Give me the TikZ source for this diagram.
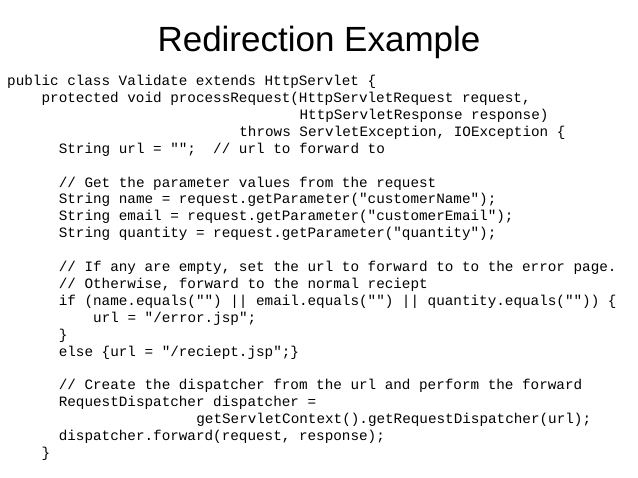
\documentclass[tikz,border=0pt]{standalone}
\usepackage{fontspec}
\setmainfont{Liberation Sans}
\newfontfamily\codefont{Liberation Mono}
\tikzset{code/.style={anchor=west,inner sep=0pt,font=\codefont\fontsize{14.3pt}{16pt}\selectfont}}
\newcommand{\codeline}[4]{\node[code] (#1) at ({7+8.6*#2},{-(82+16.9*#3)}) {#4};}
\begin{document}
\begin{tikzpicture}[x=1pt,y=1pt]
\useasboundingbox[fill=white] (0,0) rectangle (638,-478);
\node[font=\fontsize{35pt}{40pt}\selectfont] (title) at (319,-42) {Redirection Example};
\codeline{l0}{0}{0}{public class Validate extends HttpServlet \{}
\codeline{l1}{4}{1}{protected void processRequest(HttpServletRequest request,}
\codeline{l2}{34}{2}{HttpServletResponse response)}
\codeline{l3}{27}{3}{throws ServletException, IOException \{}
\codeline{l4}{6}{4}{String url = "";\ \ // url to forward to}
\codeline{l6}{6}{6}{// Get the parameter values from the request}
\codeline{l7}{6}{7}{String name = request.getParameter("customerName");}
\codeline{l8}{6}{8}{String email = request.getParameter("customerEmail");}
\codeline{l9}{6}{9}{String quantity = request.getParameter("quantity");}
\codeline{l11}{6}{11}{// If any are empty, set the url to forward to to the error page.}
\codeline{l12}{6}{12}{// Otherwise, forward to the normal reciept}
\codeline{l13}{6}{13}{if (name.equals("") || email.equals("") || quantity.equals("")) \{}
\codeline{l14}{10}{14}{url = "/error.jsp";}
\codeline{l15}{6}{15}{\}}
\codeline{l16}{6}{16}{else \{url = "/reciept.jsp";\}}
\codeline{l18}{6}{18}{// Create the dispatcher from the url and perform the forward}
\codeline{l19}{6}{19}{RequestDispatcher dispatcher =}
\codeline{l20}{22}{20}{getServletContext().getRequestDispatcher(url);}
\codeline{l21}{6}{21}{dispatcher.forward(request, response);}
\codeline{l22}{4}{22}{\}}
\end{tikzpicture}
\end{document}
